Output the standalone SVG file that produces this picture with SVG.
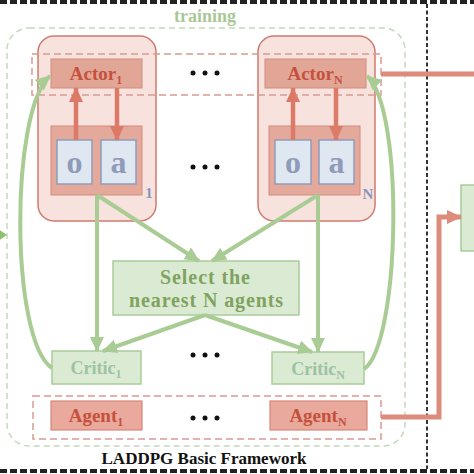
<svg xmlns="http://www.w3.org/2000/svg" width="474" height="474" viewBox="0 0 474 474">
<defs>
<style>
text{font-family:"Liberation Serif","Times New Roman",serif;font-weight:bold}
.outer{fill:#f7e2dd;stroke:#cf7b6f;stroke-width:1.5}
.actor{fill:#e2a697;stroke:#d38c7d;stroke-width:1}
.inner{fill:#e5a99b;stroke:#d38c7d;stroke-width:1}
.obs{fill:#dfe7f1;stroke:#8d9dbd;stroke-width:1.5}
.obst{fill:#8f9bb9;font-size:32px;text-anchor:middle}
.idx{fill:#8a95bb;font-size:15px;text-anchor:middle}
.redt{fill:#c4513c;font-size:19px;text-anchor:middle}
.sub{font-size:12px}
.green{fill:#dbead3;stroke:#a9cc99;stroke-width:1.5}
.critt{fill:#9cc2a6;font-size:18px;text-anchor:middle}
.selt{fill:#7fa35f;font-size:20px;text-anchor:middle}
.agent{fill:#e9a99c;stroke:#d5887a;stroke-width:1.2}
.rdash{fill:none;stroke:#d99b91;stroke-width:1.5;stroke-dasharray:7 4}
.rarr{stroke:#da7a67;stroke-width:4.5;fill:none}
.garr{stroke:#a9cc95;stroke-width:4;fill:none}
.rcon{stroke:#dc8b7d;stroke-width:5;fill:none}
.dot{fill:#111}
</style>
<marker id="rh" markerUnits="userSpaceOnUse" markerWidth="16" markerHeight="16" viewBox="0 0 16 16" refX="14" refY="8" orient="auto">
<path d="M0,1 L15,8 L0,15 Z" fill="#da7a67"/>
</marker>
<marker id="gh" markerUnits="userSpaceOnUse" markerWidth="16" markerHeight="16" viewBox="0 0 16 16" refX="14" refY="8" orient="auto">
<path d="M0,1 L15,8 L0,15 Z" fill="#a9cc95"/>
</marker>
<marker id="ch" markerUnits="userSpaceOnUse" markerWidth="16" markerHeight="16" viewBox="0 0 16 16" refX="14" refY="8" orient="auto">
<path d="M0,1 L15,8 L0,15 Z" fill="#dc8b7d"/>
</marker>
</defs>
<rect width="474" height="474" fill="#ffffff"/>

<g id="frame">
<line x1="0" y1="2" x2="474" y2="2" stroke="#222" stroke-width="4" stroke-dasharray="7 3"/>
<line x1="0" y1="471" x2="474" y2="471" stroke="#222" stroke-width="4" stroke-dasharray="7 3"/>
<line x1="427" y1="4" x2="427" y2="469" stroke="#333" stroke-width="2" stroke-dasharray="4 2.5"/>
</g>

<g id="training">
<rect x="7" y="28" width="398" height="418" rx="22" fill="none" stroke="#c5d9bd" stroke-width="1.5" stroke-dasharray="6 4"/>
<text x="205" y="22" font-size="18" fill="#a9c896" text-anchor="middle">training</text>
</g>

<g id="right-box">
<rect x="461" y="185" width="20" height="66" class="green"/>
</g>

<g id="agent1">
<rect x="38" y="36" width="118" height="185" rx="16" class="outer"/>
<rect x="51" y="126" width="91" height="69" class="inner"/>
<rect x="57" y="140" width="35" height="44" class="obs"/>
<rect x="101" y="140" width="35" height="44" class="obs"/>
<text x="74.5" y="173" class="obst">o</text>
<text x="118.5" y="173" class="obst">a</text>
<text x="149" y="198" class="idx">1</text>
</g>

<g id="agentN">
<rect x="258" y="36" width="117" height="185" rx="16" class="outer"/>
<rect x="269" y="126" width="91" height="69" class="inner"/>
<rect x="275" y="140" width="36" height="44" class="obs"/>
<rect x="319" y="140" width="35" height="44" class="obs"/>
<text x="293" y="173" class="obst">o</text>
<text x="336.5" y="173" class="obst">a</text>
<text x="368" y="199" class="idx">N</text>
</g>

<g id="actor-row">
<rect x="32" y="54" width="349" height="41" class="rdash"/>
</g>

<g id="actor1">
<rect x="51" y="59" width="91" height="29" class="actor"/>
<text x="96" y="80" class="redt">Actor<tspan class="sub" dy="4">1</tspan></text>
</g>

<g id="actorN">
<rect x="265" y="59" width="101" height="29" class="actor"/>
<text x="315" y="80" class="redt">Actor<tspan class="sub" dy="4">N</tspan></text>
</g>

<g id="select">
<rect x="113" y="261" width="186" height="54" class="green"/>
<text x="205" y="284" class="selt" textLength="90" lengthAdjust="spacing">Select the</text>
<text x="206" y="307" class="selt" textLength="154" lengthAdjust="spacing">nearest N agents</text>
</g>

<g id="critic1">
<rect x="52" y="351" width="89" height="33" class="green"/>
<text x="96" y="374" class="critt">Critic<tspan class="sub" dy="4">1</tspan></text>
</g>

<g id="criticN">
<rect x="272" y="352" width="92" height="32" class="green"/>
<text x="318" y="375" class="critt">Critic<tspan class="sub" dy="4">N</tspan></text>
</g>

<g id="agent-row">
<rect x="33" y="396" width="348" height="43" class="rdash"/>
</g>

<g id="agentbox1">
<rect x="51" y="401" width="91" height="29" class="agent"/>
<text x="96" y="422" class="redt">Agent<tspan class="sub" dy="4">1</tspan></text>
</g>

<g id="agentboxN">
<rect x="270" y="401" width="97" height="29" class="agent"/>
<text x="318" y="422" class="redt">Agent<tspan class="sub" dy="4">N</tspan></text>
</g>

<g id="ellipses">
<circle cx="193" cy="73" r="2.5" class="dot"/><circle cx="205" cy="73" r="2.5" class="dot"/><circle cx="217" cy="73" r="2.5" class="dot"/>
<circle cx="193" cy="167" r="2.5" class="dot"/><circle cx="205" cy="167" r="2.5" class="dot"/><circle cx="217" cy="167" r="2.5" class="dot"/>
<circle cx="193" cy="355" r="2.5" class="dot"/><circle cx="205" cy="355" r="2.5" class="dot"/><circle cx="217" cy="355" r="2.5" class="dot"/>
<circle cx="193" cy="418" r="2.5" class="dot"/><circle cx="205" cy="418" r="2.5" class="dot"/><circle cx="217" cy="418" r="2.5" class="dot"/>
</g>

<g id="connectors">
<line x1="76" y1="140" x2="76" y2="88" class="rarr" marker-end="url(#rh)"/>
<line x1="117" y1="88" x2="117" y2="140" class="rarr" marker-end="url(#rh)"/>
<line x1="293" y1="140" x2="293" y2="88" class="rarr" marker-end="url(#rh)"/>
<line x1="336" y1="88" x2="336" y2="140" class="rarr" marker-end="url(#rh)"/>
<line x1="97" y1="195" x2="97" y2="351" class="garr" marker-end="url(#gh)"/>
<line x1="97" y1="195" x2="199" y2="261" class="garr" marker-end="url(#gh)"/>
<line x1="318" y1="195" x2="318" y2="352" class="garr" marker-end="url(#gh)"/>
<line x1="318" y1="195" x2="212" y2="261" class="garr" marker-end="url(#gh)"/>
<line x1="205" y1="315" x2="103" y2="351" class="garr" marker-end="url(#gh)"/>
<line x1="205" y1="315" x2="312" y2="352" class="garr" marker-end="url(#gh)"/>
<path d="M52,368 C10,340 10,110 50,76" class="garr" stroke-width="3" marker-end="url(#gh)"/>
<path d="M364,369 C400,345 405,110 367,76" class="garr" stroke-width="3" marker-end="url(#gh)"/>
<polygon points="-2,229 7,235 -2,241" fill="#8fbf70"/>
<line x1="381" y1="74" x2="474" y2="74" class="rcon"/>
<path d="M381,417 H439 V217 H461" class="rcon" marker-end="url(#ch)"/>
</g>

<text x="204" y="464" font-size="17" fill="#111" text-anchor="middle">LADDPG Basic Framework</text>
</svg>
